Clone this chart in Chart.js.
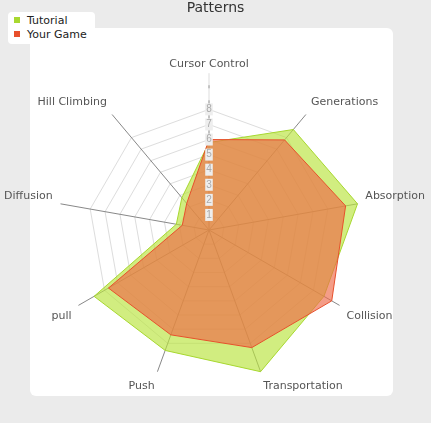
<!DOCTYPE html><html><head><script src="https://cdn.jsdelivr.net/npm/chart.js@4"></script>
<style>body{margin:0;background:#ebebeb;font-family:"DejaVu Sans",sans-serif}#w{position:relative;width:431px;height:423px}
#lg{position:absolute;left:8px;top:12px;background:#fff;border-radius:4px;padding:2px 8px 2px 6px;font-size:11px;color:#222;line-height:14px}
#lg span{display:inline-block;width:6px;height:6px;margin-right:7px;vertical-align:1px}</style></head><body>
<div id="w"><canvas id="c" width="431" height="423"></canvas>
<div id="lg"><div><span style="background:#a8d830"></span>Tutorial</div><div><span style="background:#e8502c"></span>Your Game</div></div></div>
<script>
const categories=["Cursor Control","Generations","Absorption","Collision","Transportation","Push","pull","Diffusion","Hill Climbing"];
const tutorial=[5.8,8.7,10,8.8,10,8.5,8.8,2.2,2.8];
const yourGame=[6,7.8,9.2,9.4,8.3,7.4,7.7,1.8,2.3];
const bg={id:'bg',beforeDraw(c){const x=c.ctx;x.save();x.fillStyle='#fff';x.beginPath();x.roundRect(30,28,363,368,6);x.fill();x.restore();}};
new Chart(document.getElementById('c'),{type:'radar',data:{labels:categories,datasets:[
{label:'Tutorial',data:tutorial,order:2,backgroundColor:'rgba(185,228,60,0.65)',borderColor:'#a8d830',borderWidth:1,pointRadius:0},
{label:'Your Game',data:yourGame,order:1,backgroundColor:'rgba(238,105,70,0.65)',borderColor:'#e8502c',borderWidth:1,pointRadius:0}]},
options:{responsive:false,animation:false,layout:{padding:{top:-4,left:-10,right:-10,bottom:-34}},
plugins:{legend:{display:false},title:{display:true,text:'Patterns',color:'#333',font:{size:14,family:'DejaVu Sans',weight:'normal'},padding:{top:4,bottom:10}}},
scales:{r:{min:0,max:10,ticks:{stepSize:1,color:'#aaa',font:{size:10},showLabelBackdrop:true,backdropColor:'#eee',backdropPadding:1,z:1,callback:v=>(v>=1&&v<=8)?v:''},
grid:{color:c=>c.index>=9?'rgba(0,0,0,0)':'#ddd',borderDash:[4,4]},angleLines:{color:'#888'},
pointLabels:{color:'#555',font:{size:11,family:'DejaVu Sans'},padding:2}}}},plugins:[bg]});
</script></body></html>
